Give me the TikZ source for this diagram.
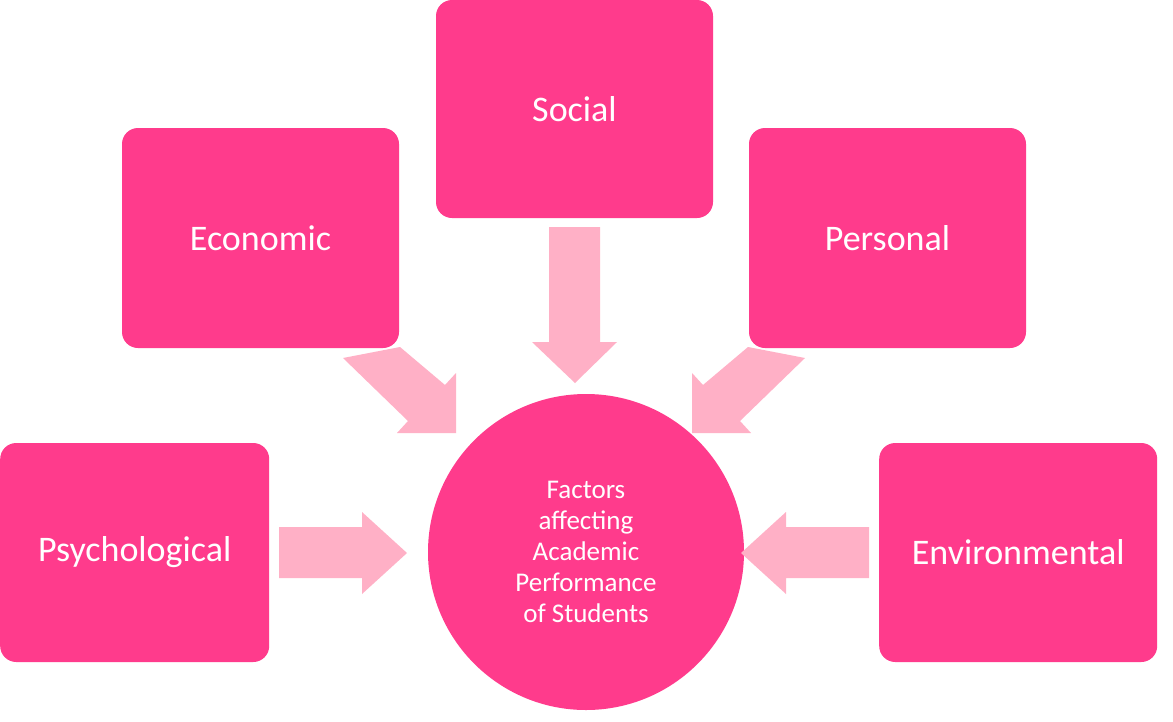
\documentclass[tikz,border=0pt]{standalone}
\usepackage{fontspec}
\setmainfont{Carlito}
\definecolor{boxpink}{HTML}{FF3B8C}
\definecolor{arrpink}{HTML}{FFB0C6}
\begin{document}
\begin{tikzpicture}[x=1pt,y=-1pt,
  box/.style={fill=boxpink,rounded corners=16pt,text=white,font=\fontsize{36}{40}\selectfont,inner sep=0pt},
  barrow/.style={fill=arrpink}]
\useasboundingbox (0,0) rectangle (1173,721);
\fill[white] (0,0) rectangle (1173,721);
\node[box,minimum width=277pt,minimum height=218pt] (soc) at (574.5,109) {Social};
\node[box,minimum width=277pt,minimum height=220pt] (eco) at (260.5,238) {Economic};
\node[box,minimum width=277pt,minimum height=220pt] (per) at (887.5,238) {Personal};
\node[box,minimum width=269pt,minimum height=219pt,anchor=west] (psy) at (0,552.5) {Psychological};
\node[box,minimum width=278pt,minimum height=219pt,anchor=west] (env) at (879,552.5) {Environmental};
\node[circle,fill=boxpink,minimum size=316pt,inner sep=0pt,text=white,align=center,
  font=\fontsize{27}{31}\selectfont] (c) at (586,552) {Factors\\affecting\\Academic\\Performance\\of Students};
% block arrows
\fill[barrow] (549,227) -- (600,227) -- (600,342) -- (617,342) -- (575,383) -- (532,342) -- (549,342) -- cycle;
\fill[barrow] (343,358) -- (400,347) -- (445,385) -- (456,373) -- (456,433) -- (397,433) -- (408,421) -- cycle;
\fill[barrow] (805,358) -- (748,347) -- (703,385) -- (692,373) -- (692,433) -- (751,433) -- (740,421) -- cycle;
\fill[barrow] (279,527) -- (362,527) -- (362,512) -- (407,553) -- (362,594) -- (362,578) -- (279,578) -- cycle;
\fill[barrow] (869,527) -- (786,527) -- (786,512) -- (741,553) -- (786,594) -- (786,578) -- (869,578) -- cycle;
\end{tikzpicture}
\end{document}
